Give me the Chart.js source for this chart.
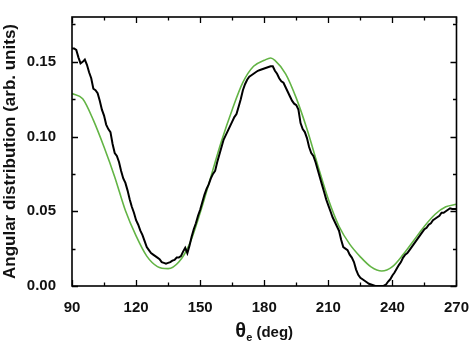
<!DOCTYPE html>
<html>
<head>
<meta charset="utf-8">
<script src="https://cdn.jsdelivr.net/npm/chart.js@4/dist/chart.umd.min.js"></script>
<style>
    html, body { margin: 0; padding: 0; background: #fff; }
    #wrap { width: 474px; height: 344px; }
</style>
</head>
<body>
<div id="wrap"><canvas id="angular-chart" width="474" height="344"></canvas></div>
<script>
// measured angular distribution (black) vs calculation (green)
const measAngle = [
    90, 91, 92, 93, 94, 95, 96, 97, 98, 99, 100, 101, 102, 103, 104, 105, 106, 107, 108, 109,
    110, 111, 112, 113, 114, 115, 116, 117, 118, 119, 120, 121, 122, 123, 124, 125, 126, 127, 128, 129,
    130, 131, 132, 133, 134, 135, 136, 137, 138, 139, 140, 141, 142, 143, 144, 145, 146, 147, 148, 149,
    150, 151, 152, 153, 154, 155, 156, 157, 158, 159, 160, 161, 162, 163, 164, 165, 166, 167, 168, 169,
    170, 171, 172, 173, 174, 175, 176, 177, 178, 179, 180, 181, 182, 183, 184, 185, 186, 187, 188, 189,
    190, 191, 192, 193, 194, 195, 196, 197, 198, 199, 200, 201, 202, 203, 204, 205, 206, 207, 208, 209,
    210, 211, 212, 213, 214, 215, 216, 217, 218, 219, 220, 221, 222, 223, 224, 225, 226, 227, 228, 229,
    230, 231, 232, 233, 234, 235, 236, 237, 238, 239, 240, 241, 242, 243, 244, 245, 246, 247, 248, 249,
    250, 251, 252, 253, 254, 255, 256, 257, 258, 259, 260, 261, 262, 263, 264, 265, 266, 267, 268, 269,
    270
];
const measValue = [
    0.159, 0.159, 0.158, 0.153, 0.149, 0.150, 0.1515, 0.148, 0.143, 0.139, 0.132, 0.131, 0.129, 0.124, 0.118, 0.114, 0.108, 0.105, 0.103, 0.095,
    0.089, 0.087, 0.083, 0.077, 0.072, 0.069, 0.064, 0.058, 0.053, 0.049, 0.044, 0.041, 0.037, 0.034, 0.030, 0.026, 0.024, 0.022, 0.021, 0.020,
    0.019, 0.018, 0.016, 0.0155, 0.015, 0.0155, 0.016, 0.017, 0.0175, 0.019, 0.019, 0.020, 0.023, 0.0255, 0.022, 0.027, 0.033, 0.038, 0.042, 0.047,
    0.051, 0.056, 0.061, 0.065, 0.068, 0.072, 0.075, 0.077, 0.083, 0.088, 0.093, 0.098, 0.101, 0.104, 0.107, 0.110, 0.113, 0.115, 0.120, 0.125,
    0.131, 0.135, 0.138, 0.140, 0.141, 0.142, 0.143, 0.144, 0.1445, 0.145, 0.1455, 0.146, 0.1465, 0.147, 0.147, 0.144, 0.142, 0.139, 0.137, 0.136,
    0.133, 0.130, 0.127, 0.124, 0.122, 0.121, 0.118, 0.109, 0.105, 0.103, 0.099, 0.093, 0.089, 0.087, 0.083, 0.078, 0.073, 0.068, 0.063, 0.058,
    0.054, 0.050, 0.046, 0.043, 0.040, 0.037, 0.031, 0.026, 0.025, 0.024, 0.021, 0.019, 0.016, 0.011, 0.0075, 0.0055, 0.0045, 0.0035, 0.0025, 0.0015,
    0.001, 0.0005, 0.0, 0.0, 0.0, 0.0, 0.0002, 0.001, 0.003, 0.0045, 0.007, 0.009, 0.0115, 0.014, 0.016, 0.019, 0.021, 0.022, 0.024, 0.026,
    0.028, 0.030, 0.032, 0.034, 0.036, 0.038, 0.039, 0.041, 0.042, 0.044, 0.045, 0.046, 0.047, 0.049, 0.049, 0.050, 0.051, 0.052, 0.0515, 0.0515,
    0.0515
];

const calcAngle = [
    90, 95, 100, 105, 110, 115, 120, 125, 130, 135, 140, 145, 150, 155, 160, 165, 170, 175, 180, 183,
    185, 190, 195, 200, 205, 210, 215, 220, 225, 230, 235, 240, 245, 250, 255, 260, 265, 270
];
const calcValue = [
    0.1288, 0.1253, 0.111, 0.093, 0.073, 0.0505, 0.0335, 0.020, 0.013, 0.0116, 0.016, 0.028, 0.049, 0.073, 0.097, 0.118, 0.1362, 0.147, 0.151, 0.1526,
    0.151, 0.142, 0.1257, 0.105, 0.081, 0.058, 0.040, 0.028, 0.0195, 0.0128, 0.0100, 0.013, 0.021, 0.0305, 0.040, 0.048, 0.053, 0.0547
];

const xTicks = [90, 120, 150, 180, 210, 240, 270];
const xMinor = [105, 135, 165, 195, 225, 255];
const yTicks = [0, 0.05, 0.10, 0.15];
const yMinor = [0.025, 0.075, 0.125, 0.175];

const FONT = "'Liberation Sans', Arial, sans-serif";

function toPoints(xs, ys) {
    return xs.map((x, i) => ({ x: x, y: ys[i] }));
}

// box frame with inward ticks on all four sides, plus the theta_e axis title
const framePlugin = {
    id: 'frame',
    afterDraw(chart) {
        const { ctx, chartArea: a, scales } = chart;
        const x = scales.x, y = scales.y;
        ctx.save();
        ctx.strokeStyle = '#000';
        ctx.lineWidth = 1.6;
        ctx.strokeRect(a.left, a.top, a.right - a.left, a.bottom - a.top);

        ctx.lineWidth = 1.3;
        ctx.beginPath();
        const xMark = (v, len) => {
            const px = Math.round(x.getPixelForValue(v)) + 0.5;
            ctx.moveTo(px, a.bottom); ctx.lineTo(px, a.bottom - len);
            ctx.moveTo(px, a.top); ctx.lineTo(px, a.top + len);
        };
        const yMark = (v, len) => {
            const py = Math.round(y.getPixelForValue(v)) + 0.5;
            ctx.moveTo(a.left, py); ctx.lineTo(a.left + len, py);
            ctx.moveTo(a.right, py); ctx.lineTo(a.right - len, py);
        };
        xTicks.forEach(v => xMark(v, 6));
        xMinor.forEach(v => xMark(v, 3.5));
        yTicks.forEach(v => yMark(v, 6));
        yMinor.forEach(v => yMark(v, 3.5));
        ctx.stroke();

        // x title: θ with subscript e, then (deg)
        const cx = (a.left + a.right) / 2;
        const base = 337;
        ctx.fillStyle = '#111';
        ctx.textBaseline = 'alphabetic';
        ctx.textAlign = 'left';
        ctx.font = `bold 20px ${FONT}`;
        const wTheta = ctx.measureText('θ').width;
        ctx.font = `bold 11px ${FONT}`;
        const wSub = ctx.measureText('e').width;
        ctx.font = `bold 15px ${FONT}`;
        const wDeg = ctx.measureText(' (deg)').width;
        let sx = cx - (wTheta + wSub + wDeg) / 2;
        ctx.font = `bold 20px ${FONT}`;
        ctx.fillText('θ', sx, base);
        sx += wTheta;
        ctx.font = `bold 11px ${FONT}`;
        ctx.fillText('e', sx, base + 4);
        sx += wSub;
        ctx.font = `bold 15px ${FONT}`;
        ctx.fillText(' (deg)', sx, base);
        ctx.restore();
    }
};

function createChart() {
    const ctx = document.getElementById('angular-chart').getContext('2d');
    new Chart(ctx, {
        type: 'line',
        data: {
            datasets: [{
                label: 'Measured',
                data: toPoints(measAngle, measValue),
                borderColor: '#000000',
                borderWidth: 2,
                pointRadius: 0,
                tension: 0
            }, {
                label: 'Calculated',
                data: toPoints(calcAngle, calcValue),
                borderColor: '#63b445',
                borderWidth: 1.6,
                pointRadius: 0,
                cubicInterpolationMode: 'monotone'
            }]
        },
        options: {
            responsive: false,
            animation: false,
            layout: { padding: { top: 1, right: 12, left: 0, bottom: 0 } },
            plugins: {
                legend: { display: false },
                tooltip: { enabled: false }
            },
            scales: {
                x: {
                    type: 'linear',
                    min: 90,
                    max: 270,
                    afterBuildTicks: scale => { scale.ticks = xTicks.map(v => ({ value: v })); },
                    afterFit: scale => { scale.height = 58; },
                    grid: { display: false },
                    border: { display: false },
                    ticks: {
                        padding: 5,
                        color: '#111',
                        font: { family: FONT, size: 15, weight: 'bold' },
                        maxRotation: 0
                    }
                },
                y: {
                    min: 0,
                    max: 0.18,
                    afterBuildTicks: scale => { scale.ticks = yTicks.map(v => ({ value: v })); },
                    afterFit: scale => { scale.width = 72; },
                    grid: { display: false },
                    border: { display: false },
                    ticks: {
                        padding: 8,
                        color: '#111',
                        font: { family: FONT, size: 15, weight: 'bold' },
                        callback: v => v.toFixed(2)
                    },
                    title: {
                        display: true,
                        text: 'Angular distribution (arb. units)',
                        color: '#111',
                        font: { family: FONT, size: 17, weight: 'bold' },
                        padding: { top: 0, bottom: 0 }
                    }
                }
            }
        },
        plugins: [framePlugin]
    });
}

document.addEventListener('DOMContentLoaded', createChart);
</script>
</body>
</html>
